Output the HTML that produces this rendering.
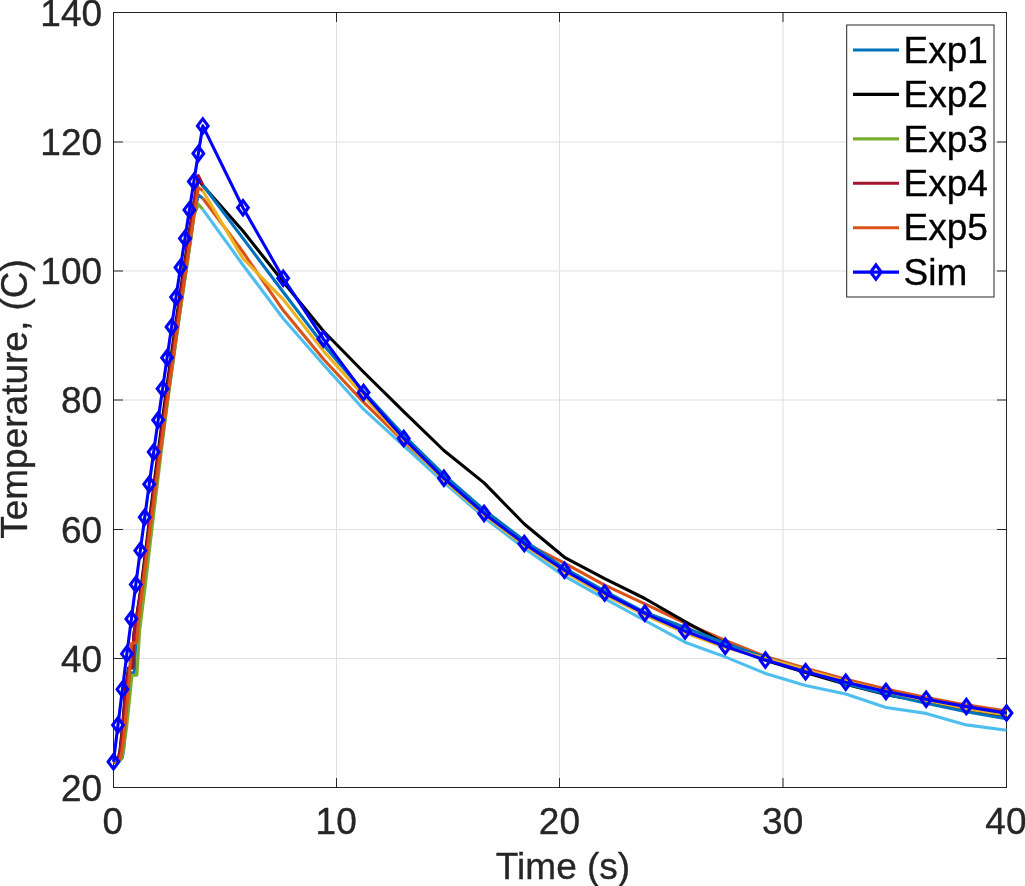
<!DOCTYPE html>
<html><head><meta charset="utf-8"><title>Temperature vs Time</title>
<style>
html,body{margin:0;padding:0;background:#fff;}
body{width:1025px;height:886px;overflow:hidden;}
svg{display:block;}
svg text{font-family:"Liberation Sans",Arial,Helvetica,sans-serif;font-size:37.0px;fill:#262626;stroke:#262626;stroke-width:0.35px;}
</style></head><body>
<svg width="1025" height="886" viewBox="0 0 1025 886">
<rect x="0" y="0" width="1025" height="886" fill="#fff"/>
<g id="grid"><line x1="336.50" y1="12.5" x2="336.50" y2="787.5" stroke="#DFDFDF" stroke-width="1"/><line x1="559.50" y1="12.5" x2="559.50" y2="787.5" stroke="#DFDFDF" stroke-width="1"/><line x1="783.00" y1="12.5" x2="783.00" y2="787.5" stroke="#DFDFDF" stroke-width="1"/><line x1="113.5" y1="658.50" x2="1006.5" y2="658.50" stroke="#DFDFDF" stroke-width="1"/><line x1="113.5" y1="529.50" x2="1006.5" y2="529.50" stroke="#DFDFDF" stroke-width="1"/><line x1="113.5" y1="400.00" x2="1006.5" y2="400.00" stroke="#DFDFDF" stroke-width="1"/><line x1="113.5" y1="271.00" x2="1006.5" y2="271.00" stroke="#DFDFDF" stroke-width="1"/><line x1="113.5" y1="142.00" x2="1006.5" y2="142.00" stroke="#DFDFDF" stroke-width="1"/></g>
<g id="ticks"><line x1="113.50" y1="787.5" x2="113.50" y2="778.0" stroke="#262626" stroke-width="1"/><line x1="113.50" y1="12.5" x2="113.50" y2="22.0" stroke="#262626" stroke-width="1"/><line x1="336.50" y1="787.5" x2="336.50" y2="778.0" stroke="#262626" stroke-width="1"/><line x1="336.50" y1="12.5" x2="336.50" y2="22.0" stroke="#262626" stroke-width="1"/><line x1="559.50" y1="787.5" x2="559.50" y2="778.0" stroke="#262626" stroke-width="1"/><line x1="559.50" y1="12.5" x2="559.50" y2="22.0" stroke="#262626" stroke-width="1"/><line x1="783.00" y1="787.5" x2="783.00" y2="778.0" stroke="#262626" stroke-width="1"/><line x1="783.00" y1="12.5" x2="783.00" y2="22.0" stroke="#262626" stroke-width="1"/><line x1="1006.50" y1="787.5" x2="1006.50" y2="778.0" stroke="#262626" stroke-width="1"/><line x1="1006.50" y1="12.5" x2="1006.50" y2="22.0" stroke="#262626" stroke-width="1"/><line x1="113.5" y1="787.50" x2="123.0" y2="787.50" stroke="#262626" stroke-width="1"/><line x1="1006.5" y1="787.50" x2="997.0" y2="787.50" stroke="#262626" stroke-width="1"/><line x1="113.5" y1="658.50" x2="123.0" y2="658.50" stroke="#262626" stroke-width="1"/><line x1="1006.5" y1="658.50" x2="997.0" y2="658.50" stroke="#262626" stroke-width="1"/><line x1="113.5" y1="529.50" x2="123.0" y2="529.50" stroke="#262626" stroke-width="1"/><line x1="1006.5" y1="529.50" x2="997.0" y2="529.50" stroke="#262626" stroke-width="1"/><line x1="113.5" y1="400.00" x2="123.0" y2="400.00" stroke="#262626" stroke-width="1"/><line x1="1006.5" y1="400.00" x2="997.0" y2="400.00" stroke="#262626" stroke-width="1"/><line x1="113.5" y1="271.00" x2="123.0" y2="271.00" stroke="#262626" stroke-width="1"/><line x1="1006.5" y1="271.00" x2="997.0" y2="271.00" stroke="#262626" stroke-width="1"/><line x1="113.5" y1="142.00" x2="123.0" y2="142.00" stroke="#262626" stroke-width="1"/><line x1="1006.5" y1="142.00" x2="997.0" y2="142.00" stroke="#262626" stroke-width="1"/><line x1="113.5" y1="12.50" x2="123.0" y2="12.50" stroke="#262626" stroke-width="1"/><line x1="1006.5" y1="12.50" x2="997.0" y2="12.50" stroke="#262626" stroke-width="1"/></g>
<rect x="113.5" y="12.5" width="893.0" height="775.0" fill="none" stroke="#262626" stroke-width="1"/>
<g id="curves">
<polyline points="113.50,762.00 118.80,761.50 122.20,758.00 123.60,750.00 125.60,727.00 128.80,690.00 130.00,673.00 134.30,672.50 135.60,645.00 137.80,630.00 143.21,584.39 147.52,550.61 151.84,517.22 156.15,484.22 160.47,451.93 164.79,420.02 169.11,388.70 173.44,357.70 177.76,326.89 182.09,297.12 186.43,267.48 190.76,238.41 193.87,214.66 198.33,195.00 202.80,198.20" fill="none" stroke="#0072BD" stroke-width="3.1" stroke-linejoin="round" stroke-linecap="butt" />
<polyline points="202.80,198.20 242.98,252.00 283.17,310.30 323.36,359.00 363.54,402.20 403.73,441.50 443.91,481.50 484.10,515.50 524.28,542.60 564.46,563.10 604.65,585.20 644.84,603.95 685.02,623.00 725.21,640.50 765.39,656.40 805.58,668.30 845.76,679.30 885.95,689.00 926.13,697.60 966.32,704.90 1006.50,711.10" fill="none" stroke="#D95319" stroke-width="3.1" stroke-linejoin="round" stroke-linecap="butt" />
<polyline points="113.50,762.00 116.30,761.00 118.50,758.00 120.00,750.00 122.50,727.00 125.50,690.00 128.50,668.00 132.60,667.50 133.80,635.00 141.50,584.39 145.67,550.61 149.84,517.22 154.01,484.22 158.19,451.93 162.38,420.02 166.61,388.70 170.94,357.70 175.26,326.89 179.59,297.12 183.93,267.48 188.26,238.41 192.60,209.93 198.33,179.00 202.80,186.00" fill="none" stroke="#000000" stroke-width="3.1" stroke-linejoin="round" stroke-linecap="butt" />
<polyline points="202.80,185.50 242.98,231.00 283.17,281.70 323.36,331.00 363.54,372.00 403.73,411.60 443.91,450.50 484.10,482.90 524.28,524.00 564.46,557.30 604.65,578.70 644.84,598.50 685.02,621.70 725.21,643.50 765.39,660.30 805.58,672.60 845.76,684.30 885.95,694.60 926.13,701.80 966.32,709.60 1006.50,716.00" fill="none" stroke="#000000" stroke-width="3.1" stroke-linejoin="round" stroke-linecap="butt" />
<polyline points="113.50,762.00 118.00,761.30 121.50,758.30 123.40,750.00 126.60,727.00 130.50,690.00 131.20,682.00 132.10,675.20 136.80,675.20 139.70,630.00 145.44,584.39 149.38,550.61 153.32,517.22 157.28,484.22 161.24,451.93 165.21,420.02 169.31,388.70 173.64,357.70 177.96,326.89 182.29,297.12 186.63,267.48 190.96,238.41 193.87,215.66 198.33,204.20 202.80,209.30" fill="none" stroke="#77AC30" stroke-width="3.1" stroke-linejoin="round" stroke-linecap="butt" />
<polyline points="202.80,209.30 242.98,265.00 283.17,318.50 323.36,364.50 363.54,409.20 403.73,445.90 443.91,482.30 484.10,517.40 524.28,548.30 564.46,576.20 604.65,598.60 644.84,620.50 685.02,642.20 725.21,656.90 765.39,673.40 805.58,685.40 845.76,694.00 885.95,707.50 926.13,713.40 966.32,724.90 1006.50,730.20" fill="none" stroke="#4DBEEE" stroke-width="3.1" stroke-linejoin="round" stroke-linecap="butt" />
<polyline points="113.50,762.00 116.50,761.00 118.80,758.00 120.30,750.00 122.80,727.00 125.80,690.00 128.80,668.50 132.80,668.00 133.80,635.00 141.95,584.39 146.19,550.61 150.44,517.22 154.68,484.22 158.93,451.93 163.18,420.02 167.44,388.70 171.70,357.70 175.96,326.89 180.22,297.12 184.49,267.48 188.76,238.41 193.04,209.93 198.33,175.60 202.80,185.00" fill="none" stroke="#A2142F" stroke-width="3.1" stroke-linejoin="round" stroke-linecap="butt" />
<polyline points="202.80,185.00 242.98,238.40 283.17,292.00 323.36,344.70 363.54,391.50 403.73,435.40 443.91,474.80 484.10,509.90 524.28,540.60 564.46,568.20 604.65,591.00 644.84,612.30 685.02,627.50 725.21,643.30 765.39,657.60 805.58,670.30 845.76,683.80 885.95,693.90 926.13,703.30 966.32,711.80 1006.50,718.60" fill="none" stroke="#0072BD" stroke-width="3.1" stroke-linejoin="round" stroke-linecap="butt" />
<polyline points="113.50,762.00 117.50,761.20 120.30,758.50 122.10,750.20 124.90,727.00 128.30,690.00 131.50,643.50 136.80,642.30 138.70,618.94 143.01,584.39 147.32,550.61 151.64,517.22 155.95,484.22 160.27,451.93 164.59,420.02 168.91,388.70 173.24,357.70 177.56,326.89 181.89,297.12 186.23,267.48 190.56,238.41 194.90,209.93 198.33,187.60 202.80,190.80" fill="none" stroke="#D95319" stroke-width="3.1" stroke-linejoin="round" stroke-linecap="butt" />
<polyline points="202.80,190.80 242.98,258.50 283.17,299.30 323.36,350.90 363.54,395.60 403.73,440.10 443.91,480.00 484.10,515.10 524.28,545.30 564.46,572.00 604.65,594.80 644.84,615.10 685.02,632.80 725.21,647.50 765.39,658.10 805.58,669.80 845.76,681.30 885.95,691.40 926.13,700.30 966.32,708.60 1006.50,715.00" fill="none" stroke="#EDB120" stroke-width="3.1" stroke-linejoin="round" stroke-linecap="butt" />
<polyline points="113.50,761.80 117.97,725.05 122.43,689.33 126.89,653.81 131.36,618.94 135.82,584.39 140.29,550.61 144.75,517.22 149.22,484.22 153.69,451.93 158.15,420.02 162.62,388.70 167.08,357.70 171.55,326.89 176.01,297.12 180.47,267.48 184.94,238.41 189.41,209.93 193.87,181.51 198.34,153.42 202.80,125.90 242.98,207.70 283.17,278.20 323.36,338.90 363.54,392.60 403.73,438.40 443.91,478.30 484.10,513.40 524.28,543.60 564.46,570.25 604.65,593.00 644.84,613.35 685.02,631.05 725.21,646.35 765.39,660.10 805.58,671.80 845.76,682.30 885.95,691.40 926.13,699.30 966.32,706.60 1006.50,713.10" fill="none" stroke="#0000FF" stroke-width="3.1" stroke-linejoin="round" stroke-linecap="butt" />
</g>
<g id="markers"><path d="M108.15,761.80 L113.50,754.65 L118.85,761.80 L113.50,768.95 Z" fill="none" stroke="#0000FF" stroke-width="3.1" stroke-linejoin="miter"/><path d="M112.62,725.05 L117.97,717.90 L123.31,725.05 L117.97,732.20 Z" fill="none" stroke="#0000FF" stroke-width="3.1" stroke-linejoin="miter"/><path d="M117.08,689.33 L122.43,682.18 L127.78,689.33 L122.43,696.48 Z" fill="none" stroke="#0000FF" stroke-width="3.1" stroke-linejoin="miter"/><path d="M121.55,653.81 L126.89,646.66 L132.25,653.81 L126.89,660.96 Z" fill="none" stroke="#0000FF" stroke-width="3.1" stroke-linejoin="miter"/><path d="M126.01,618.94 L131.36,611.79 L136.71,618.94 L131.36,626.09 Z" fill="none" stroke="#0000FF" stroke-width="3.1" stroke-linejoin="miter"/><path d="M130.47,584.39 L135.82,577.24 L141.17,584.39 L135.82,591.54 Z" fill="none" stroke="#0000FF" stroke-width="3.1" stroke-linejoin="miter"/><path d="M134.94,550.61 L140.29,543.46 L145.64,550.61 L140.29,557.76 Z" fill="none" stroke="#0000FF" stroke-width="3.1" stroke-linejoin="miter"/><path d="M139.41,517.22 L144.75,510.07 L150.10,517.22 L144.75,524.37 Z" fill="none" stroke="#0000FF" stroke-width="3.1" stroke-linejoin="miter"/><path d="M143.87,484.22 L149.22,477.07 L154.57,484.22 L149.22,491.37 Z" fill="none" stroke="#0000FF" stroke-width="3.1" stroke-linejoin="miter"/><path d="M148.34,451.93 L153.69,444.78 L159.03,451.93 L153.69,459.08 Z" fill="none" stroke="#0000FF" stroke-width="3.1" stroke-linejoin="miter"/><path d="M152.80,420.02 L158.15,412.87 L163.50,420.02 L158.15,427.17 Z" fill="none" stroke="#0000FF" stroke-width="3.1" stroke-linejoin="miter"/><path d="M157.27,388.70 L162.62,381.55 L167.97,388.70 L162.62,395.85 Z" fill="none" stroke="#0000FF" stroke-width="3.1" stroke-linejoin="miter"/><path d="M161.73,357.70 L167.08,350.55 L172.43,357.70 L167.08,364.85 Z" fill="none" stroke="#0000FF" stroke-width="3.1" stroke-linejoin="miter"/><path d="M166.20,326.89 L171.55,319.74 L176.90,326.89 L171.55,334.04 Z" fill="none" stroke="#0000FF" stroke-width="3.1" stroke-linejoin="miter"/><path d="M170.66,297.12 L176.01,289.97 L181.36,297.12 L176.01,304.27 Z" fill="none" stroke="#0000FF" stroke-width="3.1" stroke-linejoin="miter"/><path d="M175.12,267.48 L180.47,260.33 L185.82,267.48 L180.47,274.62 Z" fill="none" stroke="#0000FF" stroke-width="3.1" stroke-linejoin="miter"/><path d="M179.59,238.41 L184.94,231.26 L190.29,238.41 L184.94,245.56 Z" fill="none" stroke="#0000FF" stroke-width="3.1" stroke-linejoin="miter"/><path d="M184.06,209.93 L189.41,202.78 L194.75,209.93 L189.41,217.08 Z" fill="none" stroke="#0000FF" stroke-width="3.1" stroke-linejoin="miter"/><path d="M188.52,181.51 L193.87,174.36 L199.22,181.51 L193.87,188.66 Z" fill="none" stroke="#0000FF" stroke-width="3.1" stroke-linejoin="miter"/><path d="M192.99,153.42 L198.34,146.27 L203.69,153.42 L198.34,160.57 Z" fill="none" stroke="#0000FF" stroke-width="3.1" stroke-linejoin="miter"/><path d="M197.45,125.90 L202.80,118.75 L208.15,125.90 L202.80,133.05 Z" fill="none" stroke="#0000FF" stroke-width="3.1" stroke-linejoin="miter"/><path d="M237.63,207.70 L242.98,200.55 L248.33,207.70 L242.98,214.85 Z" fill="none" stroke="#0000FF" stroke-width="3.1" stroke-linejoin="miter"/><path d="M277.82,278.20 L283.17,271.05 L288.52,278.20 L283.17,285.35 Z" fill="none" stroke="#0000FF" stroke-width="3.1" stroke-linejoin="miter"/><path d="M318.00,338.90 L323.36,331.75 L328.71,338.90 L323.36,346.05 Z" fill="none" stroke="#0000FF" stroke-width="3.1" stroke-linejoin="miter"/><path d="M358.19,392.60 L363.54,385.45 L368.89,392.60 L363.54,399.75 Z" fill="none" stroke="#0000FF" stroke-width="3.1" stroke-linejoin="miter"/><path d="M398.38,438.40 L403.73,431.25 L409.08,438.40 L403.73,445.55 Z" fill="none" stroke="#0000FF" stroke-width="3.1" stroke-linejoin="miter"/><path d="M438.56,478.30 L443.91,471.15 L449.26,478.30 L443.91,485.45 Z" fill="none" stroke="#0000FF" stroke-width="3.1" stroke-linejoin="miter"/><path d="M478.75,513.40 L484.10,506.25 L489.45,513.40 L484.10,520.55 Z" fill="none" stroke="#0000FF" stroke-width="3.1" stroke-linejoin="miter"/><path d="M518.93,543.60 L524.28,536.45 L529.63,543.60 L524.28,550.75 Z" fill="none" stroke="#0000FF" stroke-width="3.1" stroke-linejoin="miter"/><path d="M559.11,570.25 L564.46,563.10 L569.81,570.25 L564.46,577.40 Z" fill="none" stroke="#0000FF" stroke-width="3.1" stroke-linejoin="miter"/><path d="M599.30,593.00 L604.65,585.85 L610.00,593.00 L604.65,600.15 Z" fill="none" stroke="#0000FF" stroke-width="3.1" stroke-linejoin="miter"/><path d="M639.49,613.35 L644.84,606.20 L650.19,613.35 L644.84,620.50 Z" fill="none" stroke="#0000FF" stroke-width="3.1" stroke-linejoin="miter"/><path d="M679.67,631.05 L685.02,623.90 L690.37,631.05 L685.02,638.20 Z" fill="none" stroke="#0000FF" stroke-width="3.1" stroke-linejoin="miter"/><path d="M719.86,646.35 L725.21,639.20 L730.56,646.35 L725.21,653.50 Z" fill="none" stroke="#0000FF" stroke-width="3.1" stroke-linejoin="miter"/><path d="M760.04,660.10 L765.39,652.95 L770.74,660.10 L765.39,667.25 Z" fill="none" stroke="#0000FF" stroke-width="3.1" stroke-linejoin="miter"/><path d="M800.23,671.80 L805.58,664.65 L810.93,671.80 L805.58,678.95 Z" fill="none" stroke="#0000FF" stroke-width="3.1" stroke-linejoin="miter"/><path d="M840.41,682.30 L845.76,675.15 L851.11,682.30 L845.76,689.45 Z" fill="none" stroke="#0000FF" stroke-width="3.1" stroke-linejoin="miter"/><path d="M880.60,691.40 L885.95,684.25 L891.30,691.40 L885.95,698.55 Z" fill="none" stroke="#0000FF" stroke-width="3.1" stroke-linejoin="miter"/><path d="M920.78,699.30 L926.13,692.15 L931.48,699.30 L926.13,706.45 Z" fill="none" stroke="#0000FF" stroke-width="3.1" stroke-linejoin="miter"/><path d="M960.97,706.60 L966.32,699.45 L971.67,706.60 L966.32,713.75 Z" fill="none" stroke="#0000FF" stroke-width="3.1" stroke-linejoin="miter"/><path d="M1001.15,713.10 L1006.50,705.95 L1011.85,713.10 L1006.50,720.25 Z" fill="none" stroke="#0000FF" stroke-width="3.1" stroke-linejoin="miter"/></g>
<g id="labels">
<text x="102.1" y="800.90" text-anchor="end">20</text>
<text x="102.1" y="671.73" text-anchor="end">40</text>
<text x="102.1" y="542.57" text-anchor="end">60</text>
<text x="102.1" y="413.40" text-anchor="end">80</text>
<text x="102.1" y="284.23" text-anchor="end">100</text>
<text x="102.1" y="155.07" text-anchor="end">120</text>
<text x="102.1" y="25.90" text-anchor="end">140</text>
<text x="112.90" y="833.8" text-anchor="middle">0</text>
<text x="336.15" y="833.8" text-anchor="middle">10</text>
<text x="559.40" y="833.8" text-anchor="middle">20</text>
<text x="782.65" y="833.8" text-anchor="middle">30</text>
<text x="1005.90" y="833.8" text-anchor="middle">40</text>
<text x="563" y="878.7" text-anchor="middle">Time (s)</text>
<text transform="translate(27.3,399) rotate(-90)" text-anchor="middle">Temperature, (C)</text>
</g>
<g id="legend">
<rect x="846.7" y="25.0" width="147.29999999999995" height="272.0" fill="#fff" stroke="#262626" stroke-width="1"/>
<line x1="853" y1="50.00" x2="899" y2="50.00" stroke="#0072BD" stroke-width="3.1"/>
<text x="903.6" y="62.80" style="fill:#000;stroke:#000">Exp1</text>
<line x1="853" y1="94.42" x2="899" y2="94.42" stroke="#000000" stroke-width="3.1"/>
<text x="903.6" y="107.22" style="fill:#000;stroke:#000">Exp2</text>
<line x1="853" y1="138.84" x2="899" y2="138.84" stroke="#77AC30" stroke-width="3.1"/>
<text x="903.6" y="151.64" style="fill:#000;stroke:#000">Exp3</text>
<line x1="853" y1="183.26" x2="899" y2="183.26" stroke="#A2142F" stroke-width="3.1"/>
<text x="903.6" y="196.06" style="fill:#000;stroke:#000">Exp4</text>
<line x1="853" y1="227.68" x2="899" y2="227.68" stroke="#D95319" stroke-width="3.1"/>
<text x="903.6" y="240.48" style="fill:#000;stroke:#000">Exp5</text>
<line x1="853" y1="272.10" x2="899" y2="272.10" stroke="#0000FF" stroke-width="3.1"/>
<text x="903.6" y="284.90" style="fill:#000;stroke:#000">Sim</text>
<path d="M870.55,272.10 L875.90,264.95 L881.25,272.10 L875.90,279.25 Z" fill="none" stroke="#0000FF" stroke-width="3.1" stroke-linejoin="miter"/>
</g>
</svg>
</body></html>
